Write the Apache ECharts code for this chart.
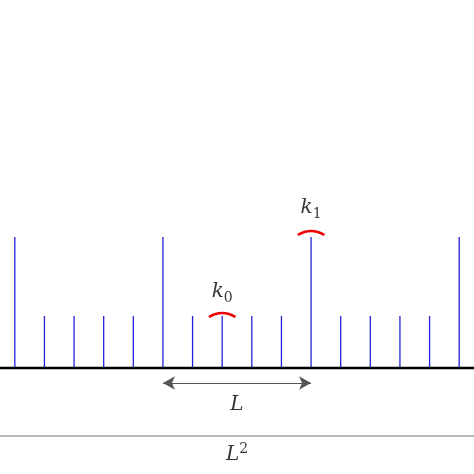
<!DOCTYPE html><html><head><meta charset="utf-8">
<script src="https://cdn.jsdelivr.net/npm/echarts@6/dist/echarts.min.js"></script>
<style>html,body{margin:0;background:#fff}#c{width:474px;height:474px}</style></head><body><div id="c"></div>
<script>
const positions=[0,1,2,3,4,5,6,7,8,9,10,11,12,13,14,15];
const heights=[131,52,52,52,52,131,52,52,52,52,131,52,52,52,52,131];
const arcK0=[[6.55,51],[7,55],[7.45,51]];
const arcK1=[[9.55,133],[10,137],[10.45,133]];
const labels=[{name:'k0',x:7,y:76},{name:'k1',x:10,y:160},{name:'L',x:7.5,y:-37},{name:'L2',x:7.5,y:-87}];
const arrowY=-15, bottomY=-68;
const txt={
 k0:'{i|k}{s|0}',k1:'{i|k}{s|1}',L:'{i|L}',L2:'{i|L}{p|2}'
};
const rich={i:{fontFamily:'DejaVu Serif',fontStyle:'italic',fontSize:20,color:'#000'},
 s:{fontFamily:'DejaVu Serif',fontSize:14,color:'#000',verticalAlign:'bottom',padding:[12,0,0,0]},
 p:{fontFamily:'DejaVu Serif',fontSize:14,color:'#000',padding:[0,0,12,0]}};
const series=[];
positions.forEach((p,i)=>series.push({type:'line',data:[[p,0],[p,heights[i]]],symbol:'none',lineStyle:{color:'#2222dd',width:1.3},silent:true}));
series.push({type:'line',data:[[-0.5,0],[15.5,0]],symbol:'none',lineStyle:{color:'#000',width:2.5}});
series.push({type:'line',data:[[-0.5,bottomY],[15.5,bottomY]],symbol:'none',lineStyle:{color:'#777',width:1}});
[arcK0,arcK1].forEach(a=>series.push({type:'line',data:a,smooth:true,symbol:'none',lineStyle:{color:'#e00',width:2.5}}));
series.push({type:'line',data:[[5,arrowY],[10,arrowY]],symbol:'none',lineStyle:{width:0},
 markLine:{symbol:['arrow','arrow'],symbolSize:[10,12],label:{show:false},lineStyle:{color:'#555',width:1,type:'solid'},data:[[{coord:[5,arrowY]},{coord:[10,arrowY]}]]}});
series.push({type:'scatter',symbolSize:0,data:labels.map(l=>({value:[l.x,l.y],name:l.name})),
 label:{show:true,position:'inside',formatter:p=>txt[p.name],rich}});
echarts.init(document.getElementById('c')).setOption({animation:false,
 grid:{left:0,right:0,top:0,bottom:0},
 xAxis:{type:'value',min:-0.5,max:15.5,show:false},
 yAxis:{type:'value',min:-106,max:368,show:false},series});
</script></body></html>
